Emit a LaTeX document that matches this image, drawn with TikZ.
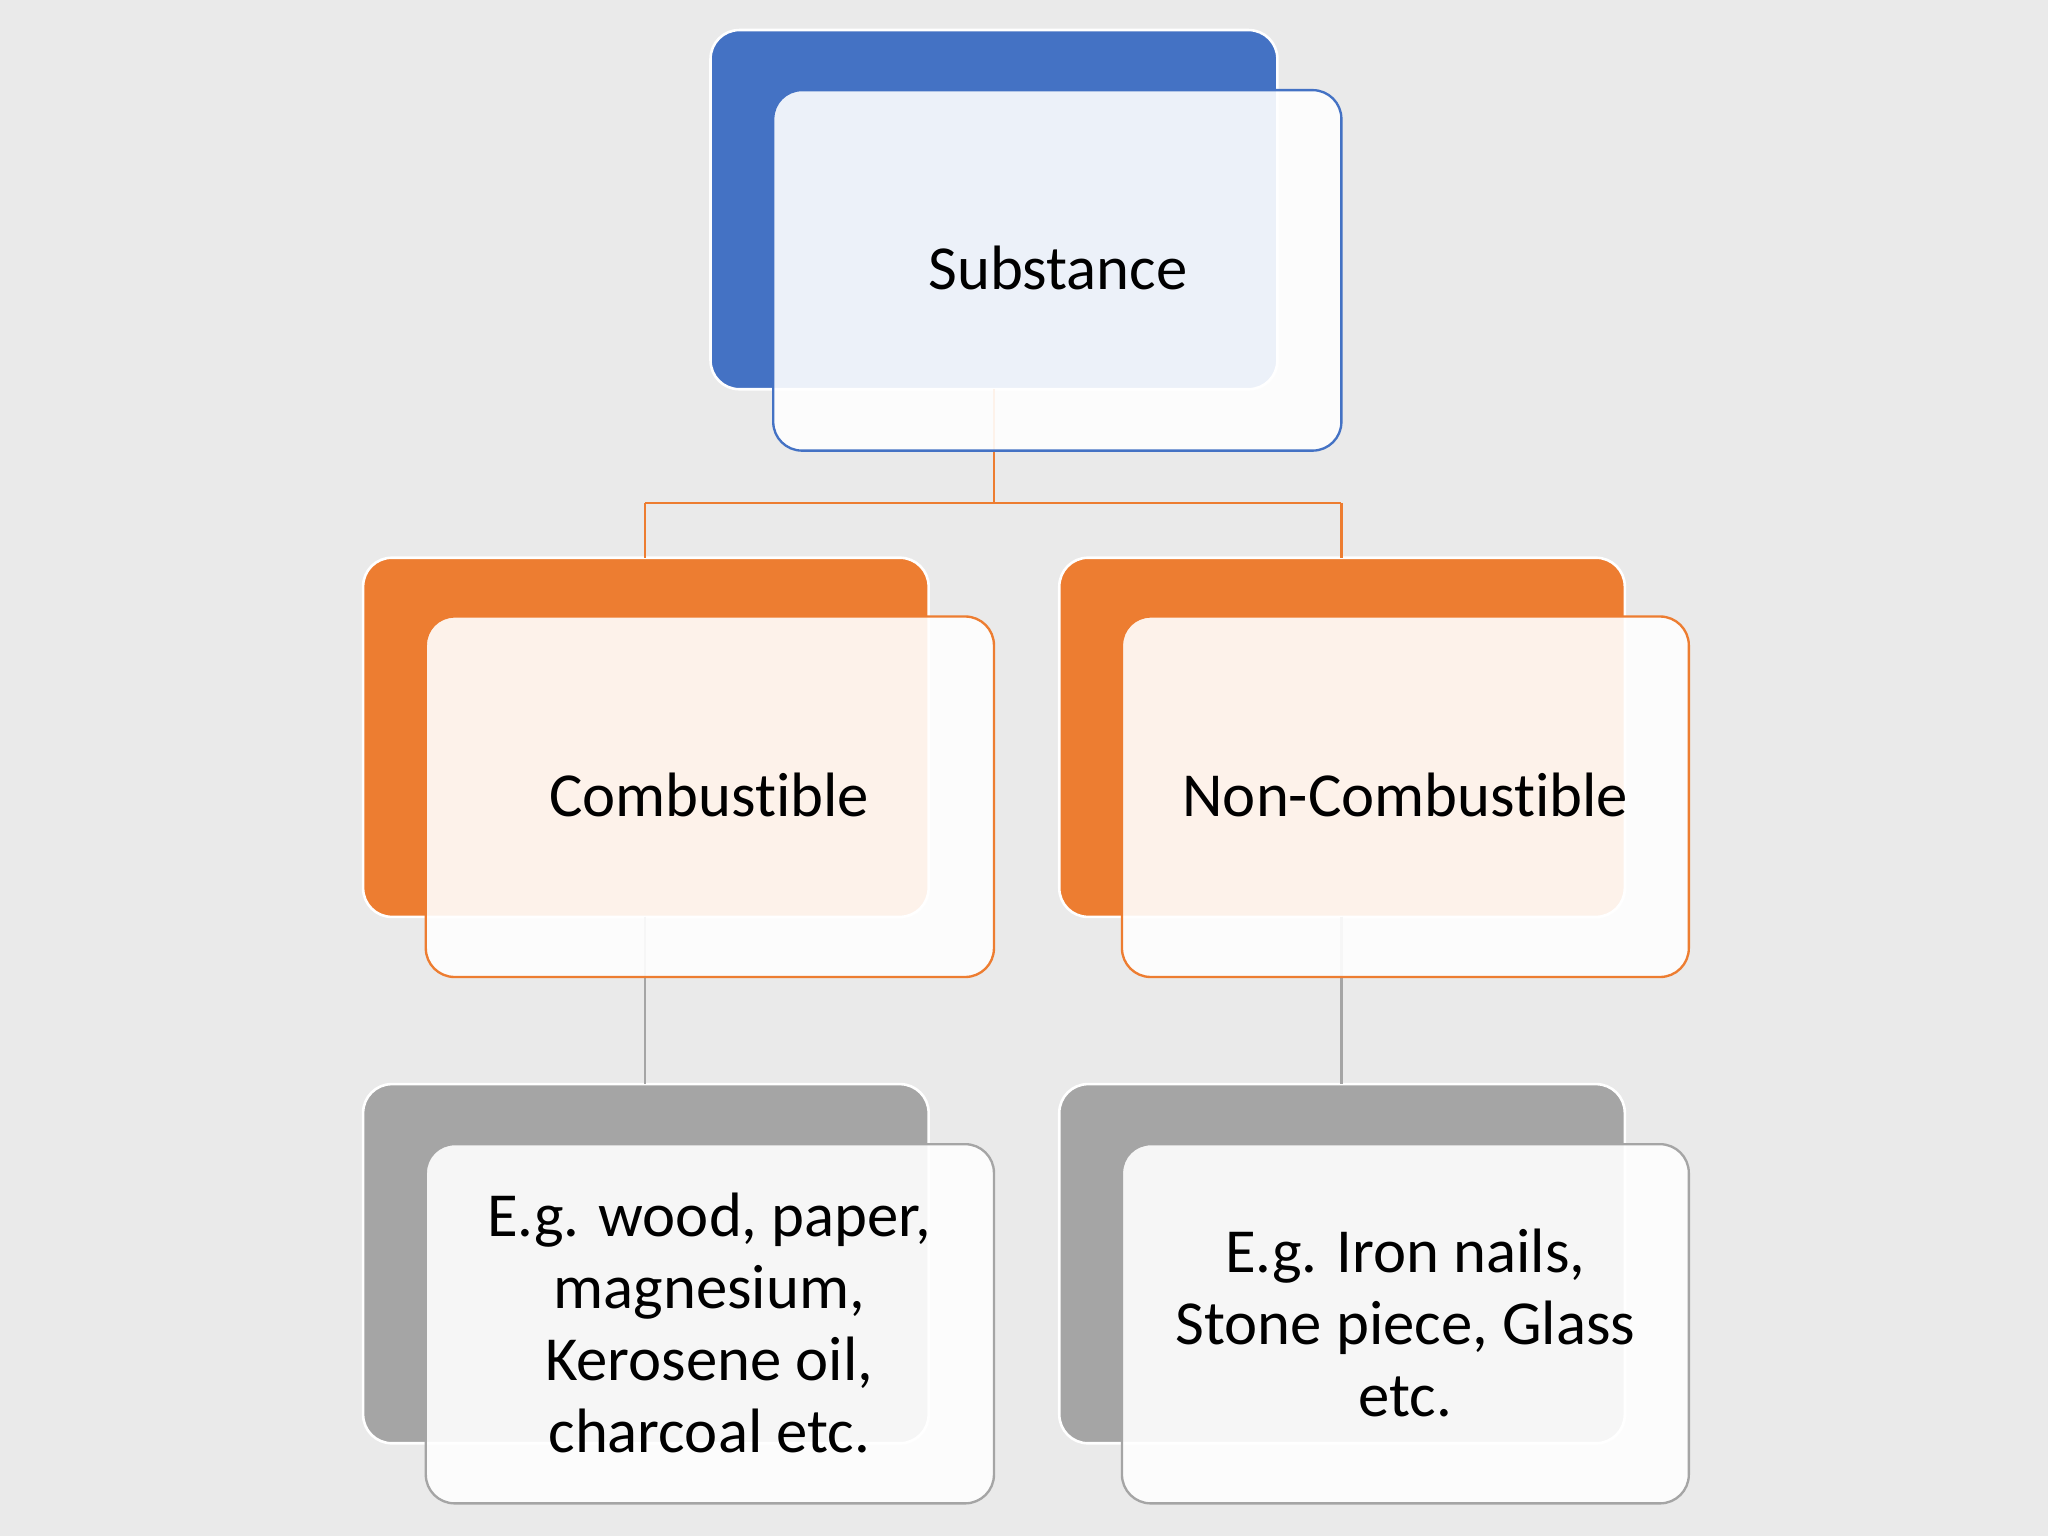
\documentclass[tikz,border=0pt]{standalone}
\usepackage{fontspec}
\setmainfont[Ligatures=NoCommon]{Carlito}
\begin{document}
\begin{tikzpicture}[x=1pt,y=-1pt,
  back/.style={draw=white,line width=2pt,rounded corners=22pt},
  front/.style={line width=1.8pt,rounded corners=22pt,fill=white,fill opacity=0.9,draw opacity=1},
  lbl/.style={font=\fontsize{48}{55}\selectfont,align=center,text opacity=1},
  conn/.style={line width=1.8pt}]
\definecolor{cblue}{HTML}{4472C4}
\definecolor{corange}{HTML}{ED7D31}
\definecolor{cgray}{HTML}{A5A5A5}
\fill[color={rgb,255:red,234;green,234;blue,234}] (0,0) rectangle (1568,1176);
\useasboundingbox (0,0) rectangle (1568,1176);
% back boxes
\draw[back,fill=cblue] (544,23) rectangle (978,298);
\draw[back,fill=corange] (278,427) rectangle (711,702);
\draw[back,fill=corange] (811,427) rectangle (1244,702);
\draw[back,fill=cgray] (278,830) rectangle (711,1105);
\draw[back,fill=cgray] (811,830) rectangle (1244,1105);
% anchors
\coordinate (t) at (761,298);
\coordinate (m) at (761,385);
\coordinate (ml) at (494,385);
\coordinate (mr) at (1027,385);
\coordinate (cl) at (494,427);
\coordinate (cr) at (1027,427);
\coordinate (gl1) at (494,702);
\coordinate (gl2) at (494,830);
\coordinate (gr1) at (1027,702);
\coordinate (gr2) at (1027,830);
\draw[conn,corange] (t) -- (m) (ml) -- (mr) (ml) -- (cl) (mr) -- (cr);
\draw[conn,cgray] (gl1) -- (gl2) (gr1) -- (gr2);
% front boxes
\draw[front,draw=cblue] (592,69) rectangle (1027,345);
\draw[front,draw=corange] (326,472) rectangle (761,748);
\draw[front,draw=corange] (859,472) rectangle (1293,748);
\draw[front,draw=cgray] (326,876) rectangle (761,1151);
\draw[front,draw=cgray] (859,876) rectangle (1293,1151);
\node[lbl] (sub) at (810,205) {Substance};
\node[lbl] (comb) at (543,609) {Combustible};
\node[lbl] (ncomb) at (1076,609) {Non-Combustible};
\node[lbl] (ex1) at (543,1013) {E.g. wood, paper,\\magnesium,\\Kerosene oil,\\charcoal etc.};
\node[lbl] (ex2) at (1076,1013) {E.g. Iron nails,\\Stone piece, Glass\\etc.};
\end{tikzpicture}
\end{document}
